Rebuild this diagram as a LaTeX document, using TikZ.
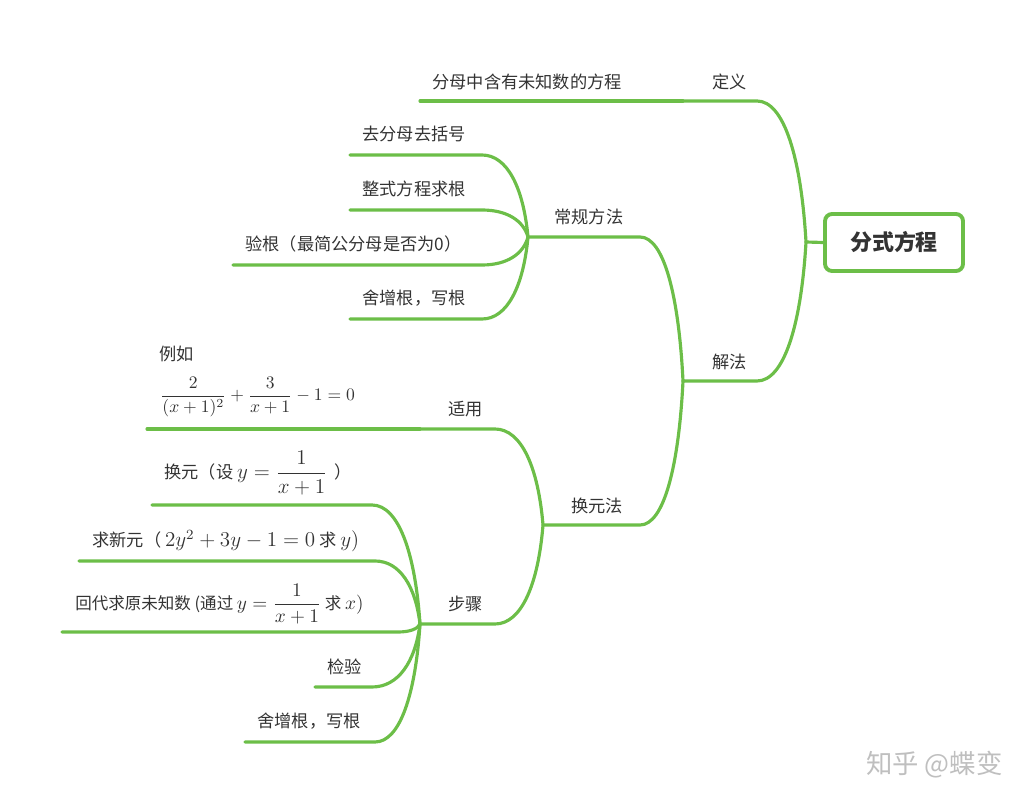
\documentclass[tikz,border=0pt]{standalone}
\usepackage[no-math]{fontspec}
\setmainfont{Noto Sans CJK SC}
\usepackage{amsmath}
\usepackage{xcolor}
\usepackage{tikz}
\usetikzlibrary{calc}
\definecolor{mapgreen}{RGB}{108,190,72}
\definecolor{maptext}{RGB}{51,51,51}
\newcommand{\bigmath}[1]{{\fontsize{11.5}{13}\selectfont$#1$}}

\begin{document}
\begin{tikzpicture}[x=0.02cm, y=-0.02cm,
  branch/.style={draw=mapgreen, line width=1.8pt, line cap=round},
  elbow/.style={to path={let \p1=(\tikztostart), \p2=(\tikztotarget) in
    .. controls ({0.9*\x1+0.1*\x2},{0.4*\y1+0.6*\y2}) and ({0.55*\x1+0.45*\x2},\y2) .. (\tikztotarget)}},
  topic/.style={anchor=west, inner sep=0pt, text=maptext, font=\fontsize{9.8}{12}\selectfont}]

\useasboundingbox (0,0) rectangle (1027,807);

% central topic
\node (root) [rectangle, rounded corners=4pt, minimum width=2.76cm, minimum height=1.14cm, draw=mapgreen, line width=2.2pt, fill=white, text=maptext, font=\bfseries\fontsize{12.5}{15}\selectfont] at (894,242.5) {分式方程};

% junctions and line ends
\coordinate (rootJ) at (806,242);
\coordinate (defE) at (757,101);
\coordinate (defJ) at (683,101);
\coordinate (defL) at (420,101);
\coordinate (solE) at (757,381);
\coordinate (solJ) at (683,381);

\coordinate (regE) at (640,237);
\coordinate (regJ) at (528,237);
\coordinate (subE) at (640,525);
\coordinate (subJ) at (543,525);

\coordinate (r1E) at (482,155);
\coordinate (r1L) at (350,155);
\coordinate (r2E) at (482,210);
\coordinate (r2L) at (350,210);
\coordinate (r3E) at (482,265);
\coordinate (r3L) at (233,265);
\coordinate (r4E) at (482,319);
\coordinate (r4L) at (350,319);

\coordinate (appE) at (495,429);
\coordinate (appJ) at (420,429);
\coordinate (egL) at (147,429);
\coordinate (stpE) at (495,624);
\coordinate (stpJ) at (420,624);

\coordinate (s1E) at (372,505);
\coordinate (s1L) at (152,505);
\coordinate (s2E) at (375,561);
\coordinate (s2L) at (79,561);
\coordinate (s3E) at (398,632);
\coordinate (s3L) at (62,632);
\coordinate (s4E) at (372,687);
\coordinate (s4L) at (315,687);
\coordinate (s5E) at (375,742);
\coordinate (s5L) at (245,742);

% labels
\node (def) [topic] at (712,82) {定义};
\node (defText) [topic] at (432,82) {分母中含有未知数的方程};
\node (sol) [topic] at (712,362) {解法};
\node (regular) [topic] at (554,217) {常规方法};
\node (subst) [topic] at (571,506) {换元法};
\node (r1) [topic] at (362,134) {去分母去括号};
\node (r2) [topic] at (362,189) {整式方程求根};
\node (r3) [topic] at (245,244) {验根（最简公分母是否为0）};
\node (r4) [topic] at (362,298) {舍增根，写根};
\node (apply) [topic] at (448,409) {适用};
\node (eg) [topic] at (159,354) {例如};
\node (eqn) [topic] at (160,397) {\fontsize{10.3}{12}\selectfont$\dfrac{2}{(x+1)^2}+\dfrac{3}{x+1}-1=0$};
\node (steps) [topic] at (448,604) {步骤};
\node (s1) [topic] at (164,473) {换元（设 \bigmath{y=\dfrac{1}{x+1}} \,）};
\node (s2) [topic] at (92,541) {求新元（ \bigmath{2y^2+3y-1=0} 求 \bigmath{y)}};
\node (s3) [topic, font=\fontsize{9.4}{11}\selectfont] at (75,604) {回代求原未知数 (通过 {\fontsize{10.7}{12}\selectfont$y=\dfrac{1}{x+1}$} 求 {\fontsize{10.7}{12}\selectfont$x)$}};
\node (s4) [topic] at (327,667) {检验};
\node (s5) [topic] at (257,721) {舍增根，写根};

\node (zhihu) [anchor=west, text=gray!50, font=\fontsize{15}{18}\selectfont] at (860,765) {知乎 @蝶变};

% connectors
\draw[branch] (root.west) -- (rootJ);
\draw[branch] (rootJ) to[elbow] (defE) -- (defJ);
\draw[branch] (defJ) -- (defL);
\draw[branch] (rootJ) to[elbow] (solE) -- (solJ);

\draw[branch] (solJ) to[elbow] (regE) -- (regJ);
\draw[branch] (solJ) to[elbow] (subE) -- (subJ);

\draw[branch] (regJ) to[elbow] (r1E) -- (r1L);
\draw[branch] (regJ) to[elbow] (r2E) -- (r2L);
\draw[branch] (regJ) to[elbow] (r3E) -- (r3L);
\draw[branch] (regJ) to[elbow] (r4E) -- (r4L);

\draw[branch] (subJ) to[elbow] (appE) -- (appJ);
\draw[branch] (appJ) -- (egL);
\draw[branch] (subJ) to[elbow] (stpE) -- (stpJ);

\draw[branch] (stpJ) to[elbow] (s1E) -- (s1L);
\draw[branch] (stpJ) to[elbow] (s2E) -- (s2L);
\draw[branch] (stpJ) to[elbow] (s3E) -- (s3L);
\draw[branch] (stpJ) to[elbow] (s4E) -- (s4L);
\draw[branch] (stpJ) to[elbow] (s5E) -- (s5L);

\end{tikzpicture}
\end{document}
